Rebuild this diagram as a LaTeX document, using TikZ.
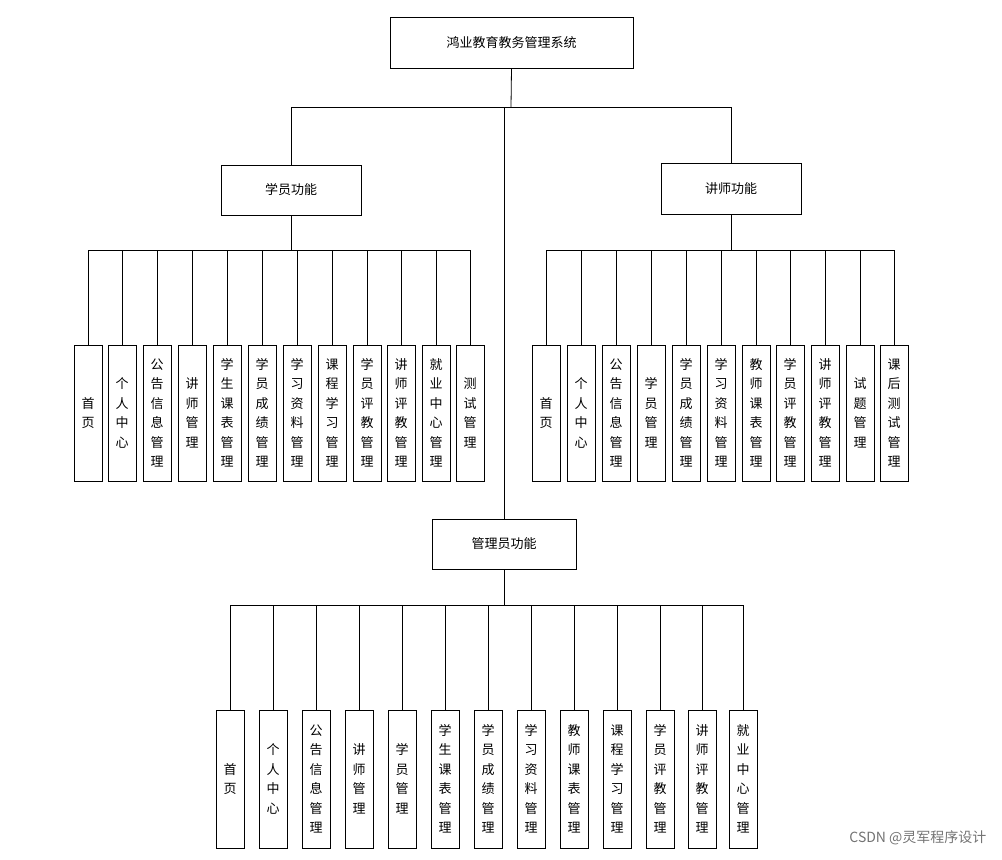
\documentclass[tikz,border=0pt]{standalone}
\usepackage{fontspec}
\setmainfont{Noto Sans CJK SC}
\begin{document}
\begin{tikzpicture}[x=1pt,y=-1pt,
  box/.style={draw,line width=0.8pt,font=\fontsize{13}{16}\selectfont,inner sep=0pt},
  leaf/.style={draw,line width=0.8pt,minimum width=28pt,minimum height=136pt,inner sep=0pt,align=center,font=\fontsize{13}{19.5}\selectfont},
  conn/.style={line width=0.8pt}]
\useasboundingbox (0,0) rectangle (1002,860);
\node[box,minimum width=243pt,minimum height=51pt] (root) at (511.5,42.5) {鸿业教育教务管理系统};
\node[box,minimum width=140pt,minimum height=50pt] (stu) at (291,190) {学员功能};
\node[box,minimum width=140pt,minimum height=51pt] (tea) at (731,188.5) {讲师功能};
\node[box,minimum width=144pt,minimum height=50pt] (adm) at (504,544) {管理员功能};
\coordinate (j) at (511,107);
\coordinate (jl) at (291,107);
\coordinate (jr) at (731,107);
\coordinate (jm) at (504,107);
\draw[conn] (root.south) -- (j);
\draw[conn] (jl) -- (jr);
\draw[conn] (jl) -- (stu.north);
\draw[conn] (jr) -- (tea.north);
\draw[conn] (jm) -- (adm.north);
% student leaves
\coordinate (sb) at (291,250);
\draw[conn] (stu.south) -- (sb);
\foreach \x/\t [count=\i] in {88/首\\页,122/个\\人\\中\\心,157/公\\告\\信\\息\\管\\理,192/讲\\师\\管\\理,227/学\\生\\课\\表\\管\\理,262/学\\员\\成\\绩\\管\\理,297/学\\习\\资\\料\\管\\理,332/课\\程\\学\\习\\管\\理,367/学\\员\\评\\教\\管\\理,401/讲\\师\\评\\教\\管\\理,436/就\\业\\中\\心\\管\\理,470/测\\试\\管\\理}{
  \node[leaf] (s\i) at (\x,413) {\t};
  \coordinate (sc\i) at (\x,250);
  \draw[conn] (sc\i) -- (s\i.north);
}
\draw[conn] (sc1) -- (sc12);
% teacher leaves
\coordinate (tb) at (731,250);
\draw[conn] (tea.south) -- (tb);
\foreach \x/\t [count=\i] in {546/首\\页,581/个\\人\\中\\心,616/公\\告\\信\\息\\管\\理,651/学\\员\\管\\理,686/学\\员\\成\\绩\\管\\理,721/学\\习\\资\\料\\管\\理,756/教\\师\\课\\表\\管\\理,790/学\\员\\评\\教\\管\\理,825/讲\\师\\评\\教\\管\\理,860/试\\题\\管\\理,894/课\\后\\测\\试\\管\\理}{
  \node[leaf] (t\i) at (\x,413) {\t};
  \coordinate (tc\i) at (\x,250);
  \draw[conn] (tc\i) -- (t\i.north);
}
\draw[conn] (tc1) -- (tc11);
% admin leaves
\coordinate (ab) at (504,605);
\draw[conn] (adm.south) -- (ab);
\foreach \x/\t [count=\i] in {230/首\\页,273/个\\人\\中\\心,316/公\\告\\信\\息\\管\\理,359/讲\\师\\管\\理,402/学\\员\\管\\理,445/学\\生\\课\\表\\管\\理,488/学\\员\\成\\绩\\管\\理,531/学\\习\\资\\料\\管\\理,574/教\\师\\课\\表\\管\\理,617/课\\程\\学\\习\\管\\理,660/学\\员\\评\\教\\管\\理,702/讲\\师\\评\\教\\管\\理,743/就\\业\\中\\心\\管\\理}{
  \node[leaf,minimum height=138pt] (a\i) at (\x,779) {\t};
  \coordinate (ac\i) at (\x,605);
  \draw[conn] (ac\i) -- (a\i.north);
}
\draw[conn] (ac1) -- (ac13);
\node[text=black!55,font=\fontsize{14}{16}\selectfont,anchor=east] (wm) at (990,838) {CSDN @灵军程序设计};
\end{tikzpicture}
\end{document}
